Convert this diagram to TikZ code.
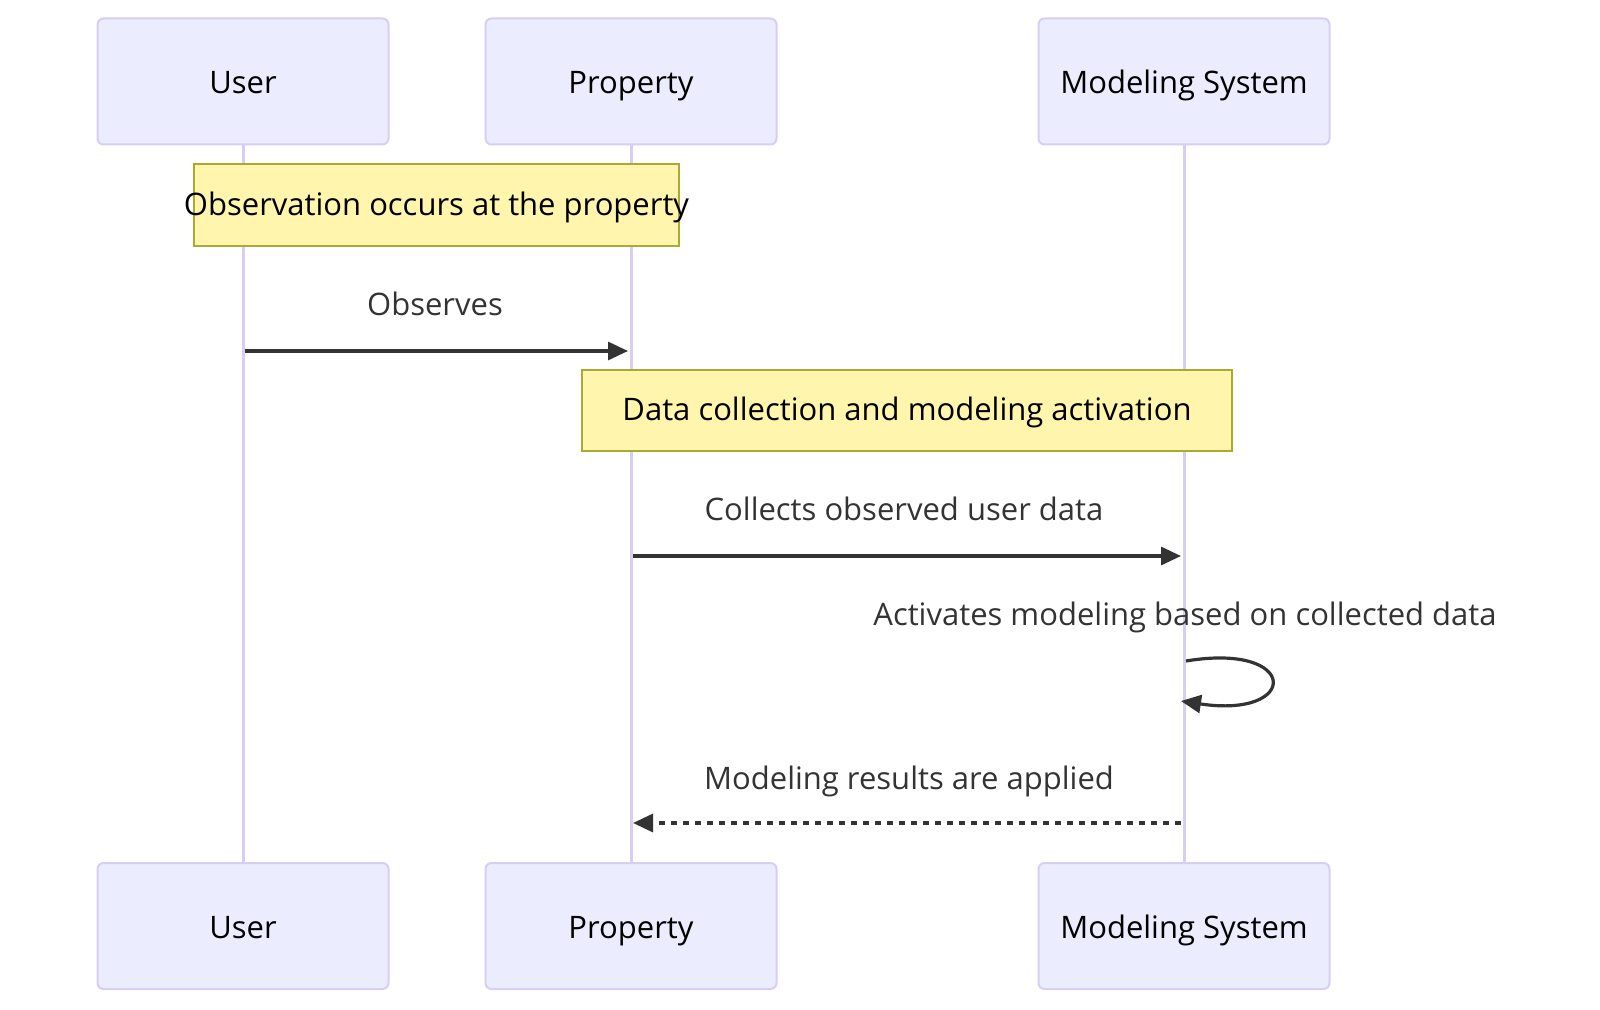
\documentclass[tikz,border=0pt]{standalone}
\usepackage{fontspec}
\setmainfont{Open Sans}
\usetikzlibrary{arrows.meta,backgrounds}
\definecolor{actbg}{HTML}{ECECFF}
\definecolor{actbd}{HTML}{D8CDF3}
\definecolor{notebg}{HTML}{FFF5AD}
\definecolor{notebd}{HTML}{AAAA33}
\definecolor{msgc}{HTML}{333333}
\begin{document}
\begin{tikzpicture}[x=0.5pt,y=-0.5pt,
  font=\fontsize{15.5}{18}\selectfont,
  actor/.style={draw=actbd, fill=actbg, line width=1pt, rounded corners=3pt,
    minimum width=145.5pt, minimum height=63pt, inner sep=0pt,
    text height=12.2pt, text depth=0pt, text=black},
  notebox/.style={draw=notebd, fill=notebg, line width=1pt, inner sep=0pt,
    minimum height=41pt, text height=10.4pt, text depth=0pt, text=black},
  msglabel/.style={inner sep=0pt, text=msgc, text height=0.72em, text depth=0pt},
  lifeline/.style={draw=actbd, line width=1.5pt},
  msgarrow/.style={draw=msgc, line width=1.6pt,
    -{Triangle[length=10pt,width=9pt]}},
  retarrow/.style={msgarrow, dash pattern=on 3pt off 3pt}
]
\useasboundingbox (0,0) rectangle (1600,1010);

% actors
\node[actor] (uT) at (243,81.5) {User};
\node[actor] (pT) at (631,81.5) {Property};
\node[actor] (mT) at (1184,81.5) {Modeling System};
\node[actor] (uB) at (243,926) {User};
\node[actor] (pB) at (631,926) {Property};
\node[actor] (mB) at (1184,926) {Modeling System};

% lifelines
\begin{scope}[on background layer]
  \draw[lifeline] (uT.south) -- (uB.north);
  \draw[lifeline] (pT.south) -- (pB.north);
  \draw[lifeline] (mT.south) -- (mB.north);
\end{scope}

% note 1
\node[notebox, minimum width=242.5pt] (n1) at (436.5,205)
  {\makebox[0pt]{Observation occurs at the property}};

% message 1
\node[msglabel] (l1) at (435,308) {Observes};
\coordinate (a1s) at (245,351);
\coordinate (a1e) at (628,351);
\draw[msgarrow] (a1s) -- (a1e);

% note 2
\node[notebox, minimum width=325pt, minimum height=40.5pt] (n2) at (907,410.5)
  {Data collection and modeling activation};

% message 2
\node[msglabel] (l2) at (904,513) {Collects observed user data};
\coordinate (a2s) at (633,556);
\coordinate (a2e) at (1181,556);
\draw[msgarrow] (a2s) -- (a2e);

% self message
\node[msglabel] (l3) at (1185,618) {Activates modeling based on collected data};
\coordinate (s1) at (1186,661);
\coordinate (s2) at (1181,701);
\draw[msgarrow] (s1) .. controls (1300,642) and (1300,719) .. (s2);

% return message
\node[msglabel] (l4) at (909,782) {Modeling results are applied};
\coordinate (a4s) at (1181,823);
\coordinate (a4e) at (633,823);
\draw[retarrow] (a4s) -- (a4e);
\end{tikzpicture}
\end{document}
